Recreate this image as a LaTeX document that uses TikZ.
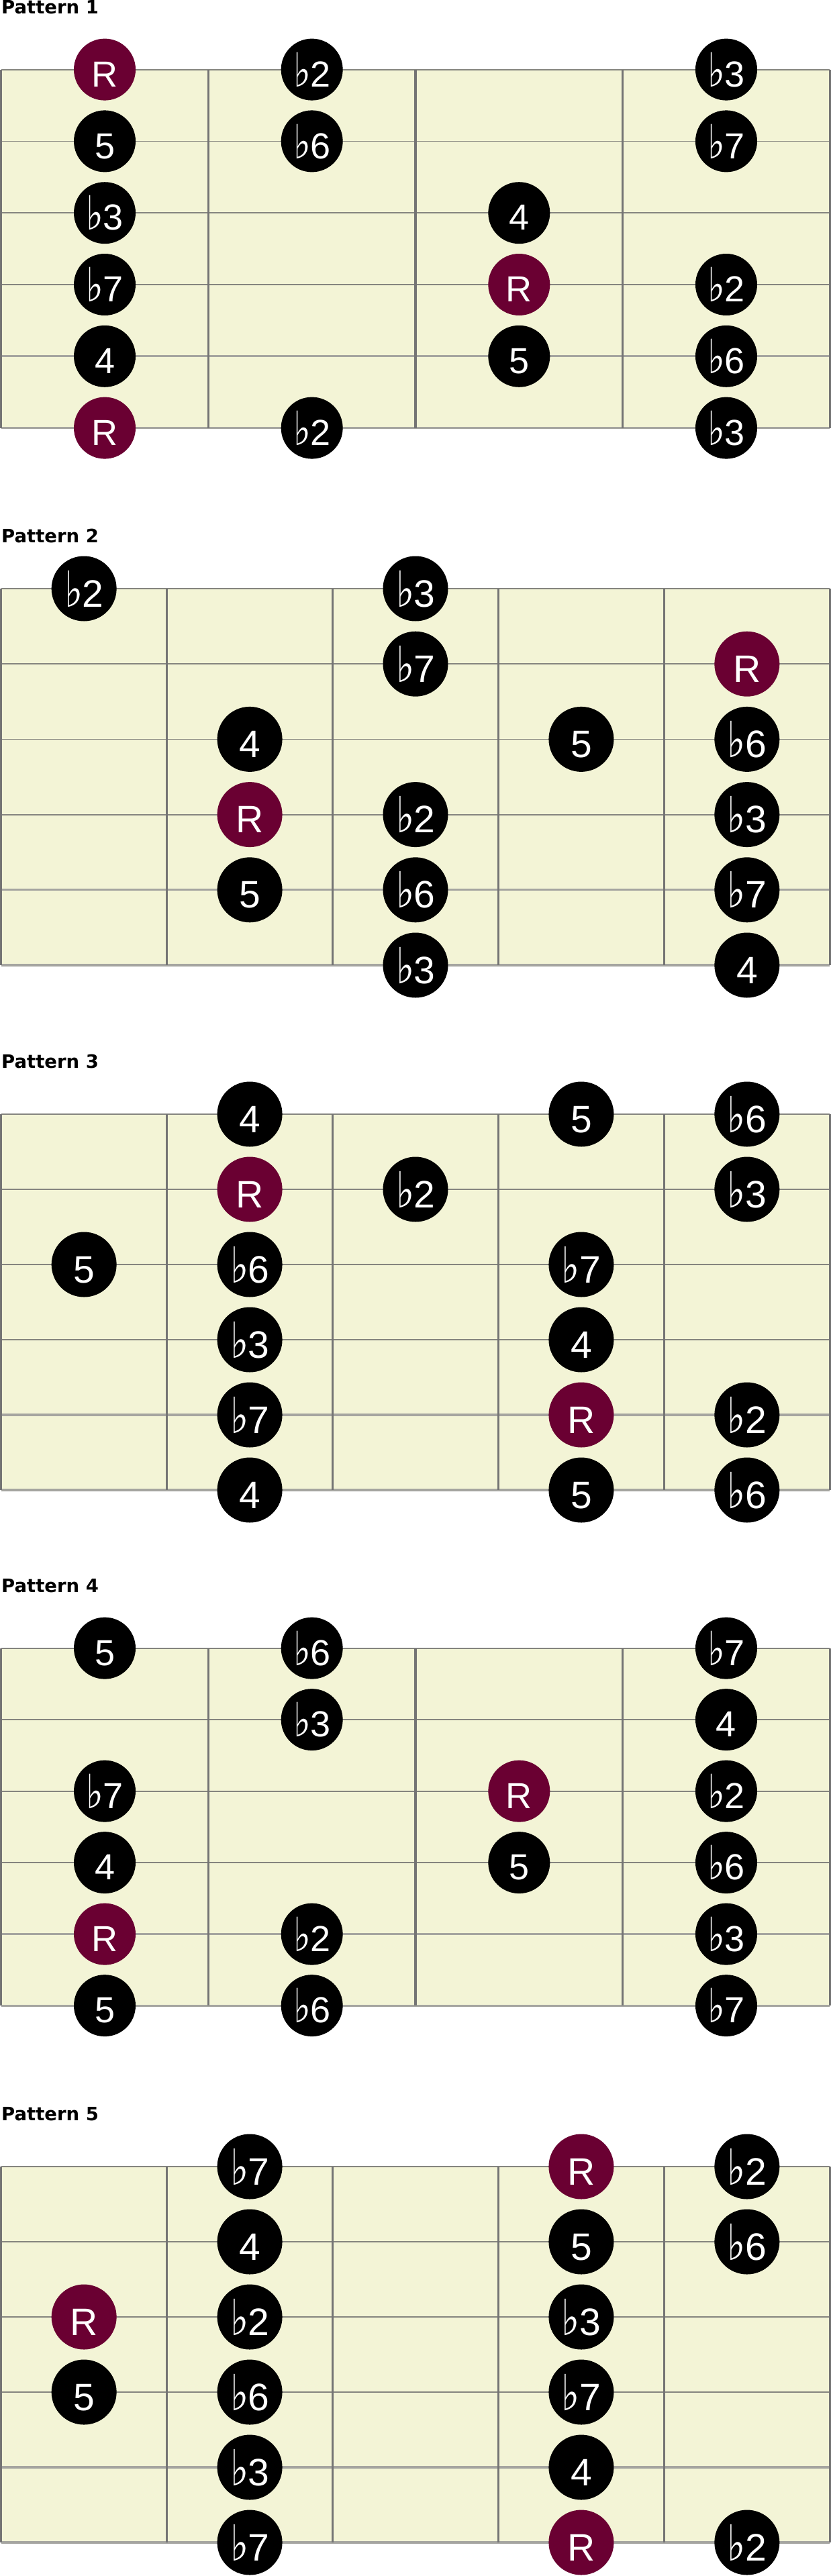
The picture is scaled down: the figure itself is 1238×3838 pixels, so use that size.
\documentclass[tikz,border=0pt]{standalone}
\usepackage{fontspec}
\usepackage{tikz}
\usetikzlibrary{positioning}
\newfontfamily\labfont{Liberation Sans}
\newfontfamily\headfont{DejaVu Sans}
\newfontfamily\symfont{DejaVu Sans}[Scale=1.3, FakeStretch=0.78]
\newcommand{\flt}{{\symfont ♭}\kern-1pt}
\definecolor{board}{HTML}{F3F4D6}
\definecolor{rootred}{HTML}{6A0032}
\definecolor{strgray}{HTML}{85857F}
\definecolor{wndgray}{HTML}{A5A5A0}
\definecolor{fretgray}{HTML}{747474}
\tikzstyle{nt}=[circle, fill=black, text=white, inner sep=0pt, text depth=0pt]
\tikzstyle{rt}=[nt, fill=rootred]
\tikzstyle{sm}=[minimum size=92pt, text height=51.5pt, font=\labfont\fontsize{54}{60}\selectfont]
\tikzstyle{lg}=[minimum size=97pt, text height=54.3pt, font=\labfont\fontsize{57}{63}\selectfont]
\tikzstyle{str}=[draw=strgray, line width=1.8pt]
\tikzstyle{wnd}=[draw=wndgray, line width=3.2pt]
\tikzstyle{frt}=[draw=fretgray, line width=3.4pt]
\tikzstyle{ttl}=[anchor=base west, inner sep=0pt, font=\headfont\bfseries\fontsize{27.5}{30}\selectfont]

\begin{document}
\begin{tikzpicture}
   \useasboundingbox (0pt,0pt) rectangle (1238pt,-3838pt);
   % pattern 1
   \node[ttl] (T1) at (2pt,-21pt) {Pattern 1};
   \begin{scope}[shift={(1.7pt,-103.6pt)}, x=308.65pt, y=-106.8pt, every node/.append style={sm}]
   \fill[board] (0,0) rectangle (4,5);
   \path[str] (0,0) -- (4,0) (0,1) -- (4,1) (0,2) -- (4,2) (0,3) -- (4,3);
   \path[wnd] (0,4) -- (4,4) (0,5) -- (4,5);
   \path[frt] (0,0) -- (0,5) (1,0) -- (1,5) (2,0) -- (2,5) (3,0) -- (3,5) (4,0) -- (4,5);
   \node[rt] (A1) at (0.5,0) {R};
   \node[nt] (A2) at (1.5,0) {\flt 2};
   \node[nt] (A3) at (3.5,0) {\flt 3};
   \node[nt] (A4) at (0.5,1) {5};
   \node[nt] (A5) at (1.5,1) {\flt 6};
   \node[nt] (A6) at (3.5,1) {\flt 7};
   \node[nt] (A7) at (0.5,2) {\flt 3};
   \node[nt] (A8) at (2.5,2) {4};
   \node[nt] (A9) at (0.5,3) {\flt 7};
   \node[rt] (A10) at (2.5,3) {R};
   \node[nt] (A11) at (3.5,3) {\flt 2};
   \node[nt] (A12) at (0.5,4) {4};
   \node[nt] (A13) at (2.5,4) {5};
   \node[nt] (A14) at (3.5,4) {\flt 6};
   \node[rt] (A15) at (0.5,5) {R};
   \node[nt] (A16) at (1.5,5) {\flt 2};
   \node[nt] (A17) at (3.5,5) {\flt 3};
   \end{scope}
   % pattern 2
   \node[ttl] (T2) at (2pt,-808.7pt) {Pattern 2};
   \begin{scope}[shift={(1.7pt,-877pt)}, x=246.92pt, y=-112.2pt, every node/.append style={lg}]
   \fill[board] (0,0) rectangle (5,5);
   \path[str] (0,0) -- (5,0) (0,1) -- (5,1) (0,2) -- (5,2) (0,3) -- (5,3);
   \path[wnd] (0,4) -- (5,4) (0,5) -- (5,5);
   \path[frt] (0,0) -- (0,5) (1,0) -- (1,5) (2,0) -- (2,5) (3,0) -- (3,5) (4,0) -- (4,5) (5,0) -- (5,5);
   \node[nt] (B1) at (0.5,0) {\flt 2};
   \node[nt] (B2) at (2.5,0) {\flt 3};
   \node[nt] (B3) at (2.5,1) {\flt 7};
   \node[rt] (B4) at (4.5,1) {R};
   \node[nt] (B5) at (1.5,2) {4};
   \node[nt] (B6) at (3.5,2) {5};
   \node[nt] (B7) at (4.5,2) {\flt 6};
   \node[rt] (B8) at (1.5,3) {R};
   \node[nt] (B9) at (2.5,3) {\flt 2};
   \node[nt] (B10) at (4.5,3) {\flt 3};
   \node[nt] (B11) at (1.5,4) {5};
   \node[nt] (B12) at (2.5,4) {\flt 6};
   \node[nt] (B13) at (4.5,4) {\flt 7};
   \node[nt] (B14) at (2.5,5) {\flt 3};
   \node[nt] (B15) at (4.5,5) {4};
   \end{scope}
   % pattern 3
   \node[ttl] (T3) at (2pt,-1591pt) {Pattern 3};
   \begin{scope}[shift={(1.7pt,-1660pt)}, x=246.92pt, y=-112pt, every node/.append style={lg}]
   \fill[board] (0,0) rectangle (5,5);
   \path[str] (0,0) -- (5,0) (0,1) -- (5,1) (0,2) -- (5,2) (0,3) -- (5,3);
   \path[wnd] (0,4) -- (5,4) (0,5) -- (5,5);
   \path[frt] (0,0) -- (0,5) (1,0) -- (1,5) (2,0) -- (2,5) (3,0) -- (3,5) (4,0) -- (4,5) (5,0) -- (5,5);
   \node[nt] (C1) at (1.5,0) {4};
   \node[nt] (C2) at (3.5,0) {5};
   \node[nt] (C3) at (4.5,0) {\flt 6};
   \node[rt] (C4) at (1.5,1) {R};
   \node[nt] (C5) at (2.5,1) {\flt 2};
   \node[nt] (C6) at (4.5,1) {\flt 3};
   \node[nt] (C7) at (0.5,2) {5};
   \node[nt] (C8) at (1.5,2) {\flt 6};
   \node[nt] (C9) at (3.5,2) {\flt 7};
   \node[nt] (C10) at (1.5,3) {\flt 3};
   \node[nt] (C11) at (3.5,3) {4};
   \node[nt] (C12) at (1.5,4) {\flt 7};
   \node[rt] (C13) at (3.5,4) {R};
   \node[nt] (C14) at (4.5,4) {\flt 2};
   \node[nt] (C15) at (1.5,5) {4};
   \node[nt] (C16) at (3.5,5) {5};
   \node[nt] (C17) at (4.5,5) {\flt 6};
   \end{scope}
   % pattern 4
   \node[ttl] (T4) at (2pt,-2372pt) {Pattern 4};
   \begin{scope}[shift={(1.7pt,-2455.6pt)}, x=308.65pt, y=-106.5pt, every node/.append style={sm}]
   \fill[board] (0,0) rectangle (4,5);
   \path[str] (0,0) -- (4,0) (0,1) -- (4,1) (0,2) -- (4,2) (0,3) -- (4,3);
   \path[wnd] (0,4) -- (4,4) (0,5) -- (4,5);
   \path[frt] (0,0) -- (0,5) (1,0) -- (1,5) (2,0) -- (2,5) (3,0) -- (3,5) (4,0) -- (4,5);
   \node[nt] (D1) at (0.5,0) {5};
   \node[nt] (D2) at (1.5,0) {\flt 6};
   \node[nt] (D3) at (3.5,0) {\flt 7};
   \node[nt] (D4) at (1.5,1) {\flt 3};
   \node[nt] (D5) at (3.5,1) {4};
   \node[nt] (D6) at (0.5,2) {\flt 7};
   \node[rt] (D7) at (2.5,2) {R};
   \node[nt] (D8) at (3.5,2) {\flt 2};
   \node[nt] (D9) at (0.5,3) {4};
   \node[nt] (D10) at (2.5,3) {5};
   \node[nt] (D11) at (3.5,3) {\flt 6};
   \node[rt] (D12) at (0.5,4) {R};
   \node[nt] (D13) at (1.5,4) {\flt 2};
   \node[nt] (D14) at (3.5,4) {\flt 3};
   \node[nt] (D15) at (0.5,5) {5};
   \node[nt] (D16) at (1.5,5) {\flt 6};
   \node[nt] (D17) at (3.5,5) {\flt 7};
   \end{scope}
   % pattern 5
   \node[ttl] (T5) at (2pt,-3159pt) {Pattern 5};
   \begin{scope}[shift={(1.7pt,-3228pt)}, x=246.92pt, y=-112pt, every node/.append style={lg}]
   \fill[board] (0,0) rectangle (5,5);
   \path[str] (0,0) -- (5,0) (0,1) -- (5,1) (0,2) -- (5,2) (0,3) -- (5,3);
   \path[wnd] (0,4) -- (5,4) (0,5) -- (5,5);
   \path[frt] (0,0) -- (0,5) (1,0) -- (1,5) (2,0) -- (2,5) (3,0) -- (3,5) (4,0) -- (4,5) (5,0) -- (5,5);
   \node[nt] (E1) at (1.5,0) {\flt 7};
   \node[rt] (E2) at (3.5,0) {R};
   \node[nt] (E3) at (4.5,0) {\flt 2};
   \node[nt] (E4) at (1.5,1) {4};
   \node[nt] (E5) at (3.5,1) {5};
   \node[nt] (E6) at (4.5,1) {\flt 6};
   \node[rt] (E7) at (0.5,2) {R};
   \node[nt] (E8) at (1.5,2) {\flt 2};
   \node[nt] (E9) at (3.5,2) {\flt 3};
   \node[nt] (E10) at (0.5,3) {5};
   \node[nt] (E11) at (1.5,3) {\flt 6};
   \node[nt] (E12) at (3.5,3) {\flt 7};
   \node[nt] (E13) at (1.5,4) {\flt 3};
   \node[nt] (E14) at (3.5,4) {4};
   \node[nt] (E15) at (1.5,5) {\flt 7};
   \node[rt] (E16) at (3.5,5) {R};
   \node[nt] (E17) at (4.5,5) {\flt 2};
   \end{scope}
\end{tikzpicture}
\end{document}
